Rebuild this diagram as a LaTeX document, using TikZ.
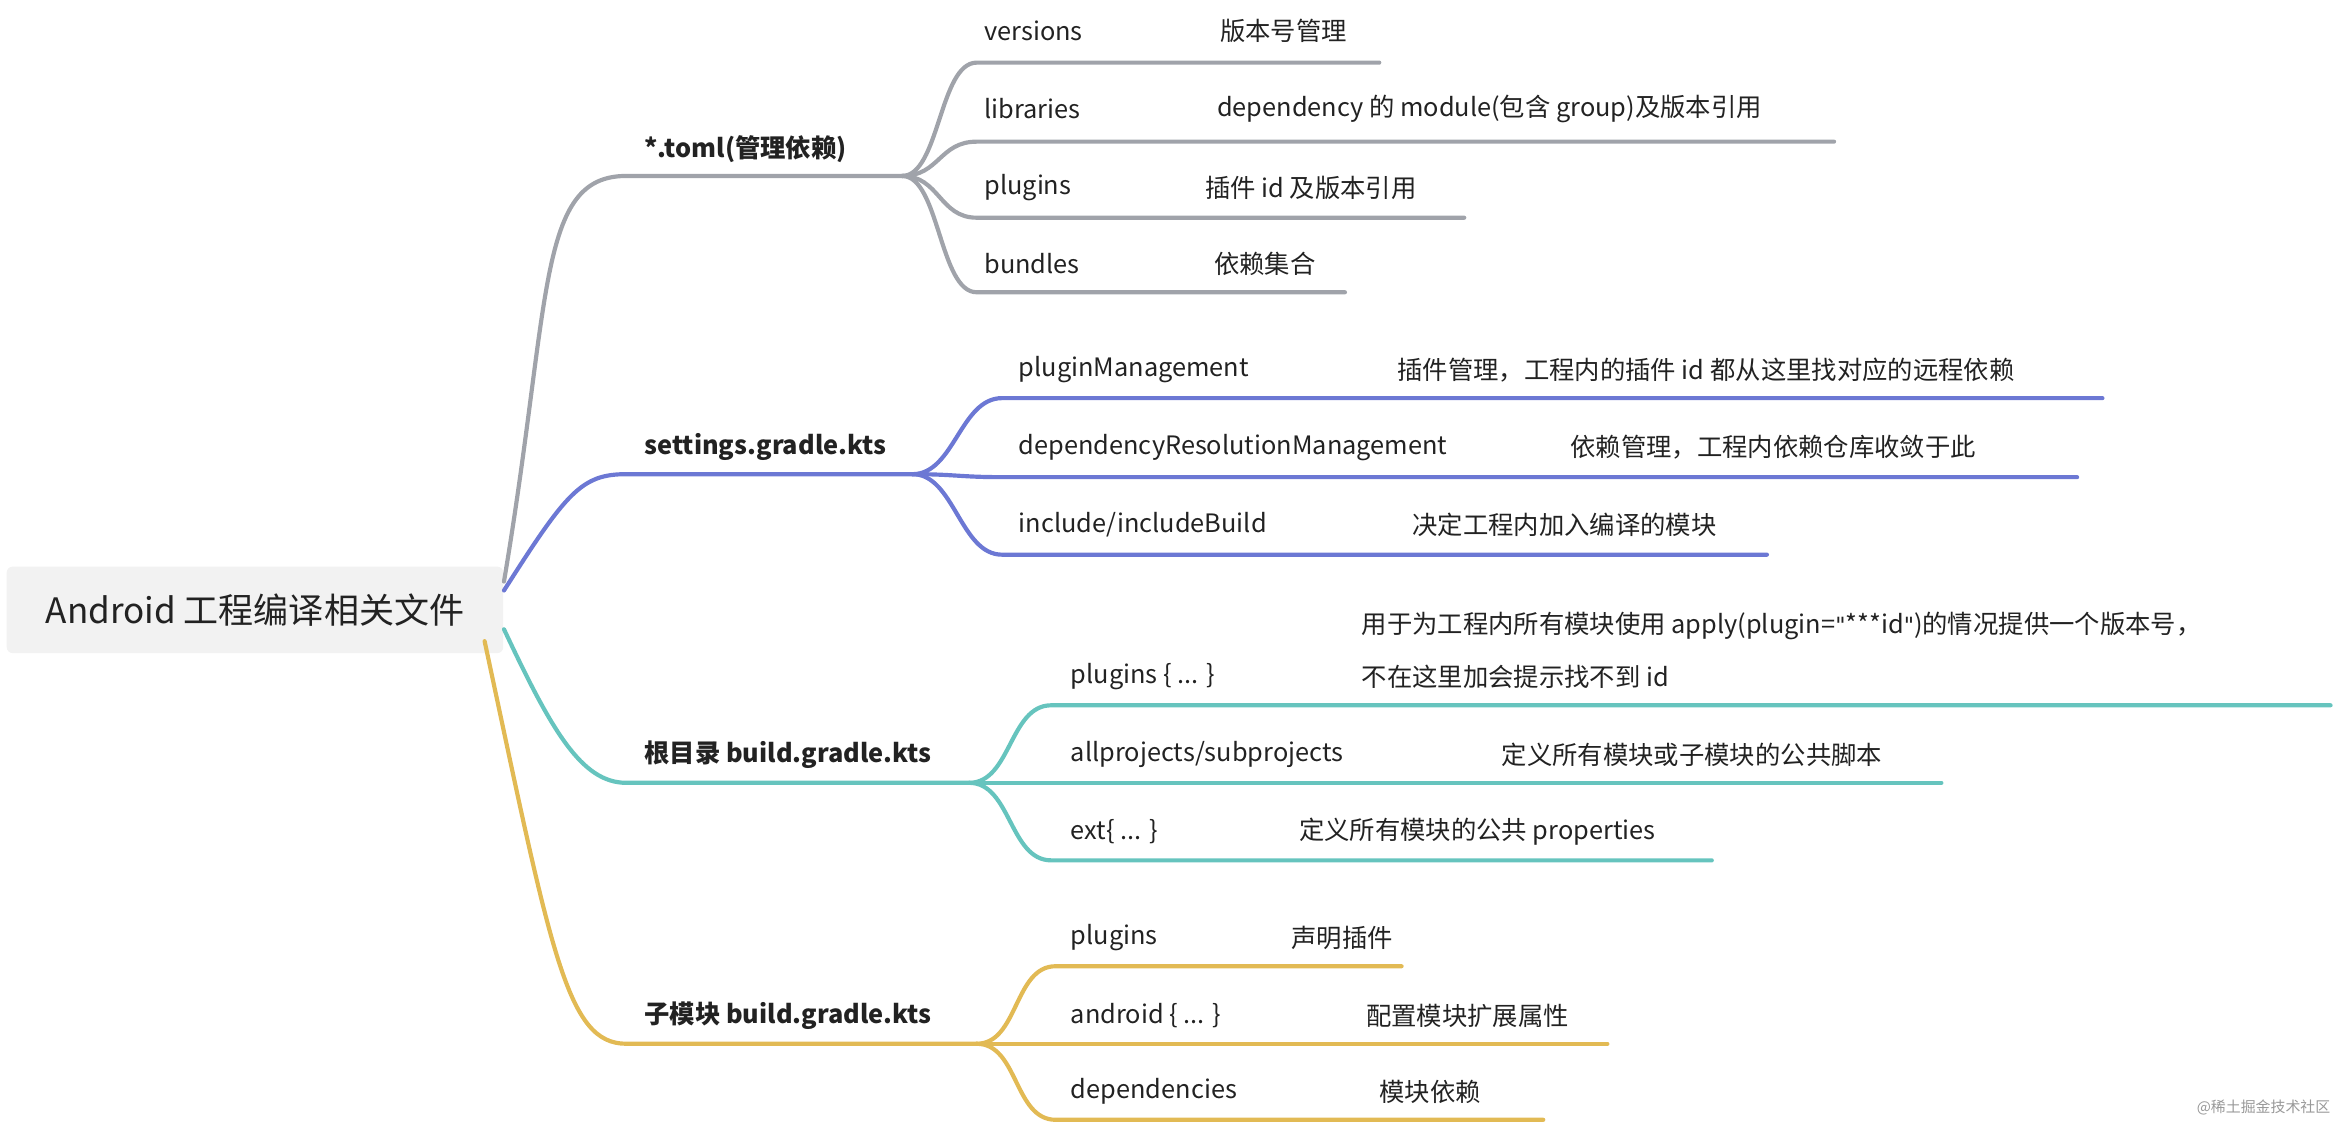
\documentclass[tikz,border=0pt]{standalone}
\usepackage{fontspec}
\setmainfont{Noto Sans CJK SC}
\newfontfamily\qfont{DejaVu Sans}
\usetikzlibrary{calc}
\definecolor{cg}{RGB}{160,163,170}
\definecolor{cb}{RGB}{108,120,212}
\definecolor{ct}{RGB}{102,196,190}
\definecolor{cy}{RGB}{226,186,84}
\definecolor{tx}{RGB}{34,34,34}
\begin{document}
\begin{tikzpicture}[x=1pt,y=-1pt,
  ln/.style={line width=2.8pt,line cap=round},
  t/.style={anchor=west,inner sep=0pt,font=\fontsize{17}{20}\selectfont,text=tx},
  b/.style={anchor=west,inner sep=0pt,font=\fontsize{17}{20}\selectfont\bfseries,text=tx}]
\useasboundingbox (0,0) rectangle (1568,755);
\newcommand{\cv}[5]{\draw[ln,#1] (#2) .. controls ($(#2)+(#4,0)$) and ($(#3)-(#4,0)$) .. (#3) -- #5;}
\node[fill=black!5,rounded corners=4pt,minimum width=333pt,minimum height=58pt,font=\fontsize{23.5}{26}\selectfont,text=tx] (root) at (171,409) {Android 工程编译相关文件};
\coordinate (r) at (338,409);
% branch nodes
\node[b] (b1) at (432,100) {*.toml(管理依赖)};
\node[b] (b2) at (432,300) {settings.gradle.kts};
\node[b] (b3) at (432,506) {根目录 build.gradle.kts};
\node[b] (b4) at (432,681) {子模块 build.gradle.kts};
\coordinate (s1) at (420,118);\coordinate (s2) at (420,318);\coordinate (s3) at (420,525);\coordinate (s4) at (420,700);
\coordinate (e1) at (605,118);\coordinate (e2) at (612,318);\coordinate (e3) at (650,525);\coordinate (e4) at (655,700);
\draw[ln,cg] (338,390) .. controls (370,200) and (360,118) .. (s1) -- (e1);
\draw[ln,cb] (338,396) .. controls (380,330) and (390,318) .. (s2) -- (e2);
\draw[ln,ct] (338,422) .. controls (370,490) and (390,525) .. (s3) -- (e3);
\draw[ln,cy] (325,430) .. controls (370,640) and (380,700) .. (s4) -- (e4);
% leaves toml
\node[t] (l11) at (660,21) {versions}; \node[t] at (818,21) {版本号管理};
\node[t] (l12) at (660,73) {libraries}; \node[t] at (816,73) {dependency 的 module(包含 group)及版本引用};
\node[t] (l13) at (660,126) {plugins}; \node[t] at (808,126) {插件 id 及版本引用};
\node[t] (l14) at (660,177) {bundles}; \node[t] at (814,177) {依赖集合};
\cv{cg}{e1}{655,42}{25}{(925,42)}
\cv{cg}{e1}{655,95}{25}{(1230,95)}
\cv{cg}{e1}{655,146}{25}{(982,146)}
\cv{cg}{e1}{655,196}{25}{(902,196)}
% settings
\node[t] (l21) at (683,248) {pluginManagement}; \node[t] at (937,248) {插件管理，工程内的插件 id 都从这里找对应的远程依赖};
\node[t] (l22) at (683,300) {dependencyResolutionManagement}; \node[t] at (1053,300) {依赖管理，工程内依赖仓库收敛于此};
\node[t] (l23) at (683,352) {include/includeBuild}; \node[t] at (947,352) {决定工程内加入编译的模块};
\cv{cb}{e2}{672,267}{28}{(1410,267)}
\cv{cb}{e2}{672,320}{28}{(1393,320)}
\cv{cb}{e2}{672,372}{28}{(1185,372)}
% root build
\node[t] (l31) at (718,454) {plugins \{ ... \}};
\node[t] at (913,420) {用于为工程内所有模块使用 apply(plugin={\qfont\fontsize{15}{18}\selectfont\symbol{34}}***id{\qfont\fontsize{15}{18}\selectfont\symbol{34}})的情况提供一个版本号，};
\node[t] at (913,454) {不在这里加会提示找不到 id};
\node[t] (l32) at (718,506) {allprojects/subprojects}; \node[t] at (1007,506) {定义所有模块或子模块的公共脚本};
\node[t] (l33) at (718,558) {ext\{ ... \}}; \node[t] at (871,558) {定义所有模块的公共 properties};
\cv{ct}{e3}{705,473}{28}{(1563,473)}
\cv{ct}{e3}{705,525}{28}{(1302,525)}
\cv{ct}{e3}{705,577}{28}{(1148,577)}
% submodule
\node[t] (l41) at (718,629) {plugins}; \node[t] at (866,629) {声明插件};
\node[t] (l42) at (718,681) {android \{ ... \}}; \node[t] at (916,681) {配置模块扩展属性};
\node[t] (l43) at (718,732) {dependencies}; \node[t] at (925,732) {模块依赖};
\cv{cy}{e4}{708,648}{28}{(940,648)}
\cv{cy}{e4}{708,700}{28}{(1078,700)}
\cv{cy}{e4}{708,751}{28}{(1035,751)}
\node[anchor=east,inner sep=0pt,font=\fontsize{10}{12}\selectfont,text=black!40] (wm) at (1563,743) {@稀土掘金技术社区};
\end{tikzpicture}
\end{document}
